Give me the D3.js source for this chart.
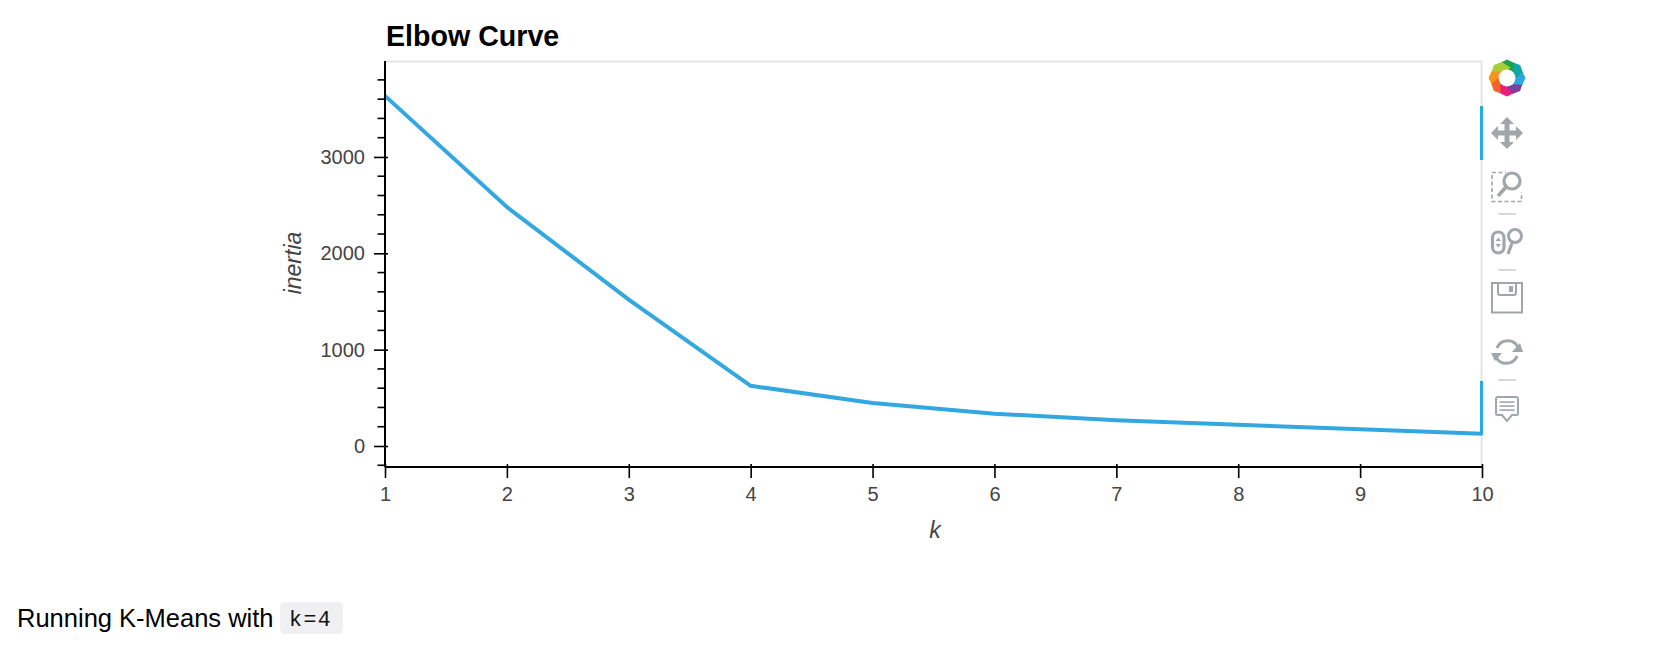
<!DOCTYPE html>
<html><head><meta charset="utf-8">
<script src="https://cdn.jsdelivr.net/npm/d3@7"></script>
<style>
html,body{margin:0;padding:0;background:#fff;overflow:hidden}
svg{display:block;position:absolute;left:0;top:0}
text{font-family:"Liberation Sans",Arial,sans-serif}
text.code{font-family:"Liberation Mono",monospace}
</style></head><body>
<svg id="c" width="1658" height="646"></svg>
<script>
const kValues=[1,2,3,4,5,6,7,8,9,10];
const inertia=[3634,2480,1520,625,446,335,268,220,174,126];
const yMajorTicks=[0,1000,2000,3000];
const yMinorTicks=[-200,200,400,600,800,1200,1400,1600,1800,2200,2400,2600,2800,3200,3400,3600,3800];
const titleText="Elbow Curve", xLabel="k", yLabel="inertia";
const captionText="Running K-Means with", codeText="k=4";
const logoColors=["#1fa24a","#11a6a6","#2aa9e0","#7b3f9d","#ed1c7c","#f26522","#f7941e","#a6ce39"];

const L=385,R=1482,T=61,B=467;
const svg=d3.select("#c");
const x=d3.scaleLinear().domain([1,10]).range([L,R]);
const y=d3.scaleLinear().domain([-218,3996]).range([B,T]);

// frame
svg.append("path").attr("d",`M${L},${T}.5H${R-.5}V${B}`).attr("fill","none").attr("stroke","#e5e5e5").attr("stroke-width",2);

// line
svg.append("path").datum(kValues.map((k,i)=>[k,inertia[i]]))
  .attr("d",d3.line().x(d=>x(d[0])).y(d=>y(d[1])))
  .attr("fill","none").attr("stroke","#33a7df").attr("stroke-width",4);

// active-tool markers
const blue="#26aae1";
svg.append("rect").attr("x",1480).attr("y",106).attr("width",3).attr("height",54).attr("fill",blue);
svg.append("rect").attr("x",1480).attr("y",381).attr("width",3).attr("height",54).attr("fill",blue);

// y axis
const ya=svg.append("g").attr("transform",`translate(${L},0)`);
ya.call(d3.axisLeft(y).tickValues(yMajorTicks).tickSize(0).tickPadding(20).tickFormat(d3.format("d")));
ya.select(".domain").attr("d",`M0,${T}V${B}`).attr("stroke","#000").attr("stroke-width",2);
ya.selectAll(".tick text").attr("font-size",20).attr("fill","#444");
ya.selectAll(".tick line").attr("x1",-11).attr("x2",3).attr("stroke","#000").attr("stroke-width",1.6);
ya.selectAll(".minor").data(yMinorTicks).enter().append("line").attr("class","minor")
  .attr("x1",-7.5).attr("x2",0).attr("y1",d=>y(d)).attr("y2",d=>y(d)).attr("stroke","#000").attr("stroke-width",1.6);

// x axis
const xa=svg.append("g").attr("transform",`translate(0,${B})`);
xa.call(d3.axisBottom(x).tickValues(kValues).tickSize(0).tickPadding(20).tickFormat(d3.format("d")));
xa.select(".domain").attr("d",`M${L},0H${R}`).attr("stroke","#000").attr("stroke-width",2);
xa.selectAll(".tick text").attr("font-size",20).attr("fill","#444");
xa.selectAll(".tick line").attr("y1",-3).attr("y2",11).attr("stroke","#000").attr("stroke-width",1.6);

// labels
svg.append("text").attr("x",386).attr("y",45.5).attr("font-size",28.6).attr("font-weight","bold").attr("fill","#000").text(titleText);
svg.append("text").attr("x",935).attr("y",538).attr("text-anchor","middle").attr("font-size",23).attr("font-style","italic").attr("fill","#444").text(xLabel);
svg.append("text").attr("transform","translate(301,263) rotate(-90)").attr("text-anchor","middle").attr("font-size",23).attr("font-style","italic").attr("fill","#444").text(yLabel);

// caption
svg.append("rect").attr("x",280).attr("y",602).attr("width",63).attr("height",32).attr("rx",5).attr("fill","#f0f0f2");
svg.append("text").attr("x",17).attr("y",627).attr("font-size",25.5).attr("fill","#000").text(captionText);
svg.append("text").attr("class","code").attr("x",289).attr("y",626).attr("font-size",21.5).attr("letter-spacing",1.5).attr("fill","#111").text(codeText);

// toolbar
const gray="#a1a6a9", tb=svg.append("g");
const cx=1507;
// logo
const logo=tb.append("g").attr("transform",`translate(${cx},78)`);
logoColors.forEach((c,i)=>{
  logo.append("path").attr("d","M-6,-15.5 L0,-18.5 L7.5,-15 L10,-5 L3,-6 Z").attr("fill",c)
    .attr("transform",`rotate(${i*45})`);
});
logo.append("circle").attr("r",8.5).attr("fill","#fff");
// move
tb.append("path").attr("transform",`translate(${cx},133)`).attr("fill",gray)
  .attr("d","M0,-16L7,-9H2.5V-2.5H9V-7L16,0L9,7V2.5H2.5V9H7L0,16L-7,9H-2.5V2.5H-9V7L-16,0L-9,-7V-2.5H-2.5V-9H-7Z");
// box zoom
tb.append("rect").attr("x",1492).attr("y",172.5).attr("width",29.5).attr("height",29).attr("fill","none").attr("stroke",gray).attr("stroke-width",1.6).attr("stroke-dasharray","4 2.5");
tb.append("rect").attr("x",1506).attr("y",168).attr("width",18).attr("height",24).attr("fill","#fff");
tb.append("circle").attr("cx",1512).attr("cy",181).attr("r",8).attr("fill","#fff").attr("stroke",gray).attr("stroke-width",3.2);
tb.append("line").attr("x1",1506).attr("y1",187).attr("x2",1498).attr("y2",196).attr("stroke",gray).attr("stroke-width",3.6);
// dividers
[214,270,380].forEach(v=>tb.append("rect").attr("x",1498).attr("y",v-.75).attr("width",18).attr("height",1.5).attr("fill","#ccc"));
// wheel zoom
tb.append("rect").attr("x",1492.5).attr("y",232).attr("width",11.5).attr("height",21).attr("rx",5.7).attr("fill","none").attr("stroke",gray).attr("stroke-width",3.2);
tb.append("path").attr("d","M1498.2,237.5L1501,241H1495.5ZM1498.2,247.5L1501,244H1495.5Z").attr("fill",gray);
tb.append("circle").attr("cx",1515).attr("cy",236).attr("r",6.5).attr("fill","none").attr("stroke",gray).attr("stroke-width",3);
tb.append("line").attr("x1",1512).attr("y1",243).attr("x2",1508).attr("y2",254).attr("stroke",gray).attr("stroke-width",3.2);
// save
tb.append("rect").attr("x",1492).attr("y",283).attr("width",30).attr("height",29.5).attr("fill","none").attr("stroke",gray).attr("stroke-width",2);
tb.append("path").attr("d","M1498,283V292.5Q1498,295 1500,295H1514Q1516,295 1516,292.5V283").attr("fill","none").attr("stroke",gray).attr("stroke-width",2);
tb.append("rect").attr("x",1509).attr("y",286).attr("width",4).attr("height",6).attr("fill",gray);
// reset
tb.append("path").attr("d","M1497,348A11.5,11.5 0 0 1 1518,347").attr("fill","none").attr("stroke",gray).attr("stroke-width",3);
tb.append("path").attr("d","M1517,356A11.5,11.5 0 0 1 1496,357").attr("fill","none").attr("stroke",gray).attr("stroke-width",3);
tb.append("path").attr("d","M1512,352H1523L1520,343Z").attr("fill",gray);
tb.append("path").attr("d","M1491,353H1502L1495,361Z").attr("fill",gray);
// hover
tb.append("path").attr("d","M1498,397H1516Q1518,397 1518,399V413.5Q1518,415 1516,415H1512L1507,421L1502,415H1498Q1496,415 1496,413.5V399Q1496,397 1498,397Z").attr("fill","none").attr("stroke",gray).attr("stroke-width",2);
[402,406,410].forEach(v=>tb.append("rect").attr("x",1499.5).attr("y",v-.7).attr("width",15).attr("height",1.6).attr("fill",gray));
</script>
</body></html>
